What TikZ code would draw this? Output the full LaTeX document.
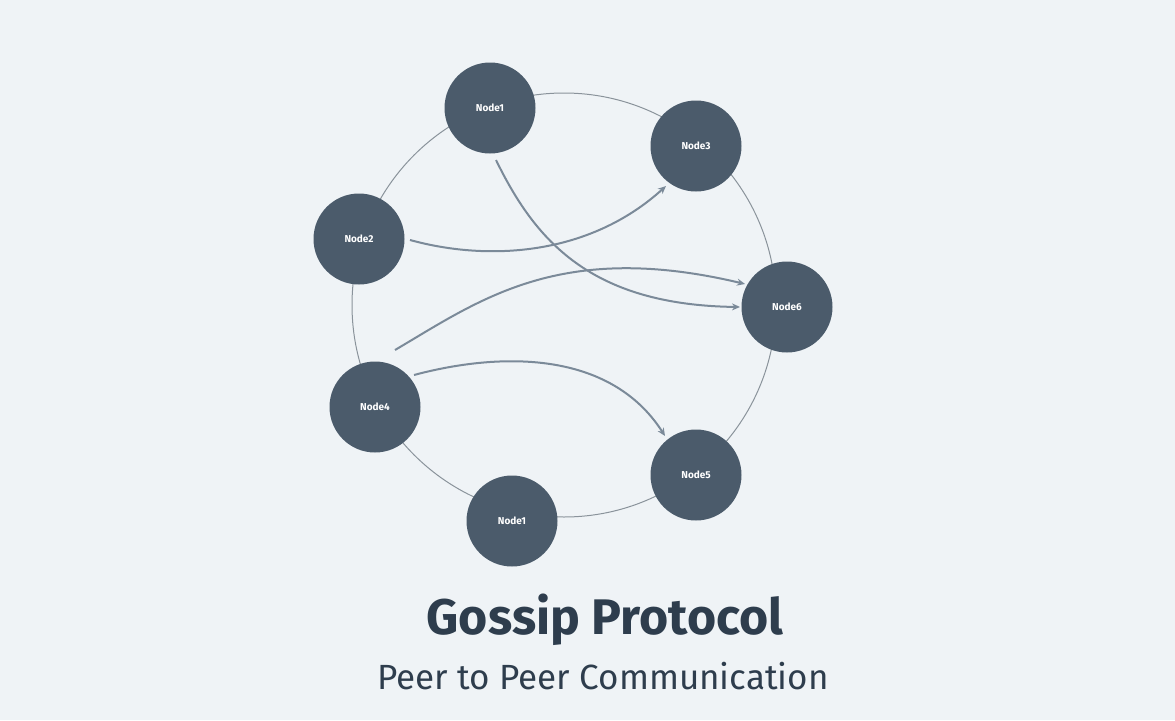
\documentclass[tikz,border=0pt]{standalone}
\usepackage{fontspec}
\setmainfont{Fira Sans}
\usetikzlibrary{arrows.meta}
\definecolor{bg}{HTML}{EFF3F6}
\definecolor{nodefill}{HTML}{4B5B6B}
\definecolor{ring}{HTML}{8A939B}
\definecolor{arr}{HTML}{7B8A99}
\definecolor{title}{HTML}{2E3D4D}
\begin{document}
\begin{tikzpicture}[x=1pt,y=-1pt,
  peer/.style={circle,fill=nodefill,minimum size=91pt,inner sep=0pt,text=white,font=\fontsize{10}{12}\selectfont\bfseries},
  msg/.style={draw=arr,line width=2pt,-{Stealth[length=8pt,width=7pt]}}]
\fill[bg] (0,0) rectangle (1175,720);
\useasboundingbox (0,0) rectangle (1175,720);
\draw[ring,line width=1pt] (564,305) circle (212);
\node[peer] (n1) at (490,108) {Node1};
\node[peer] (n3) at (696,146) {Node3};
\node[peer] (n2) at (359,239) {Node2};
\node[peer] (n6) at (787,307) {Node6};
\node[peer] (n4) at (375,407) {Node4};
\node[peer] (n5) at (696,475) {Node5};
\node[peer] (n1b) at (512,521) {Node1};
\coordinate (a1) at (410,240); \coordinate (b1) at (666,186);
\coordinate (a2) at (496,160); \coordinate (b2) at (740,307);
\coordinate (a3) at (395,350); \coordinate (b3) at (745,284);
\coordinate (a4) at (414,375); \coordinate (b4) at (665,436);
\draw[msg] (a1) .. controls (490,262) and (590,255) .. (b1);
\draw[msg] (a2) .. controls (535,240) and (590,305) .. (b2);
\draw[msg] (a3) .. controls (480,300) and (560,240) .. (b3);
\draw[msg] (a4) .. controls (500,352) and (610,350) .. (b4);
\node[text=title,font=\fontsize{50}{56}\selectfont\bfseries] (t) at (605,620) {Gossip Protocol};
\node[text=title,font=\fontsize{35}{40}\selectfont] (s) at (603,676) {Peer to Peer Communication};
\end{tikzpicture}
\end{document}
